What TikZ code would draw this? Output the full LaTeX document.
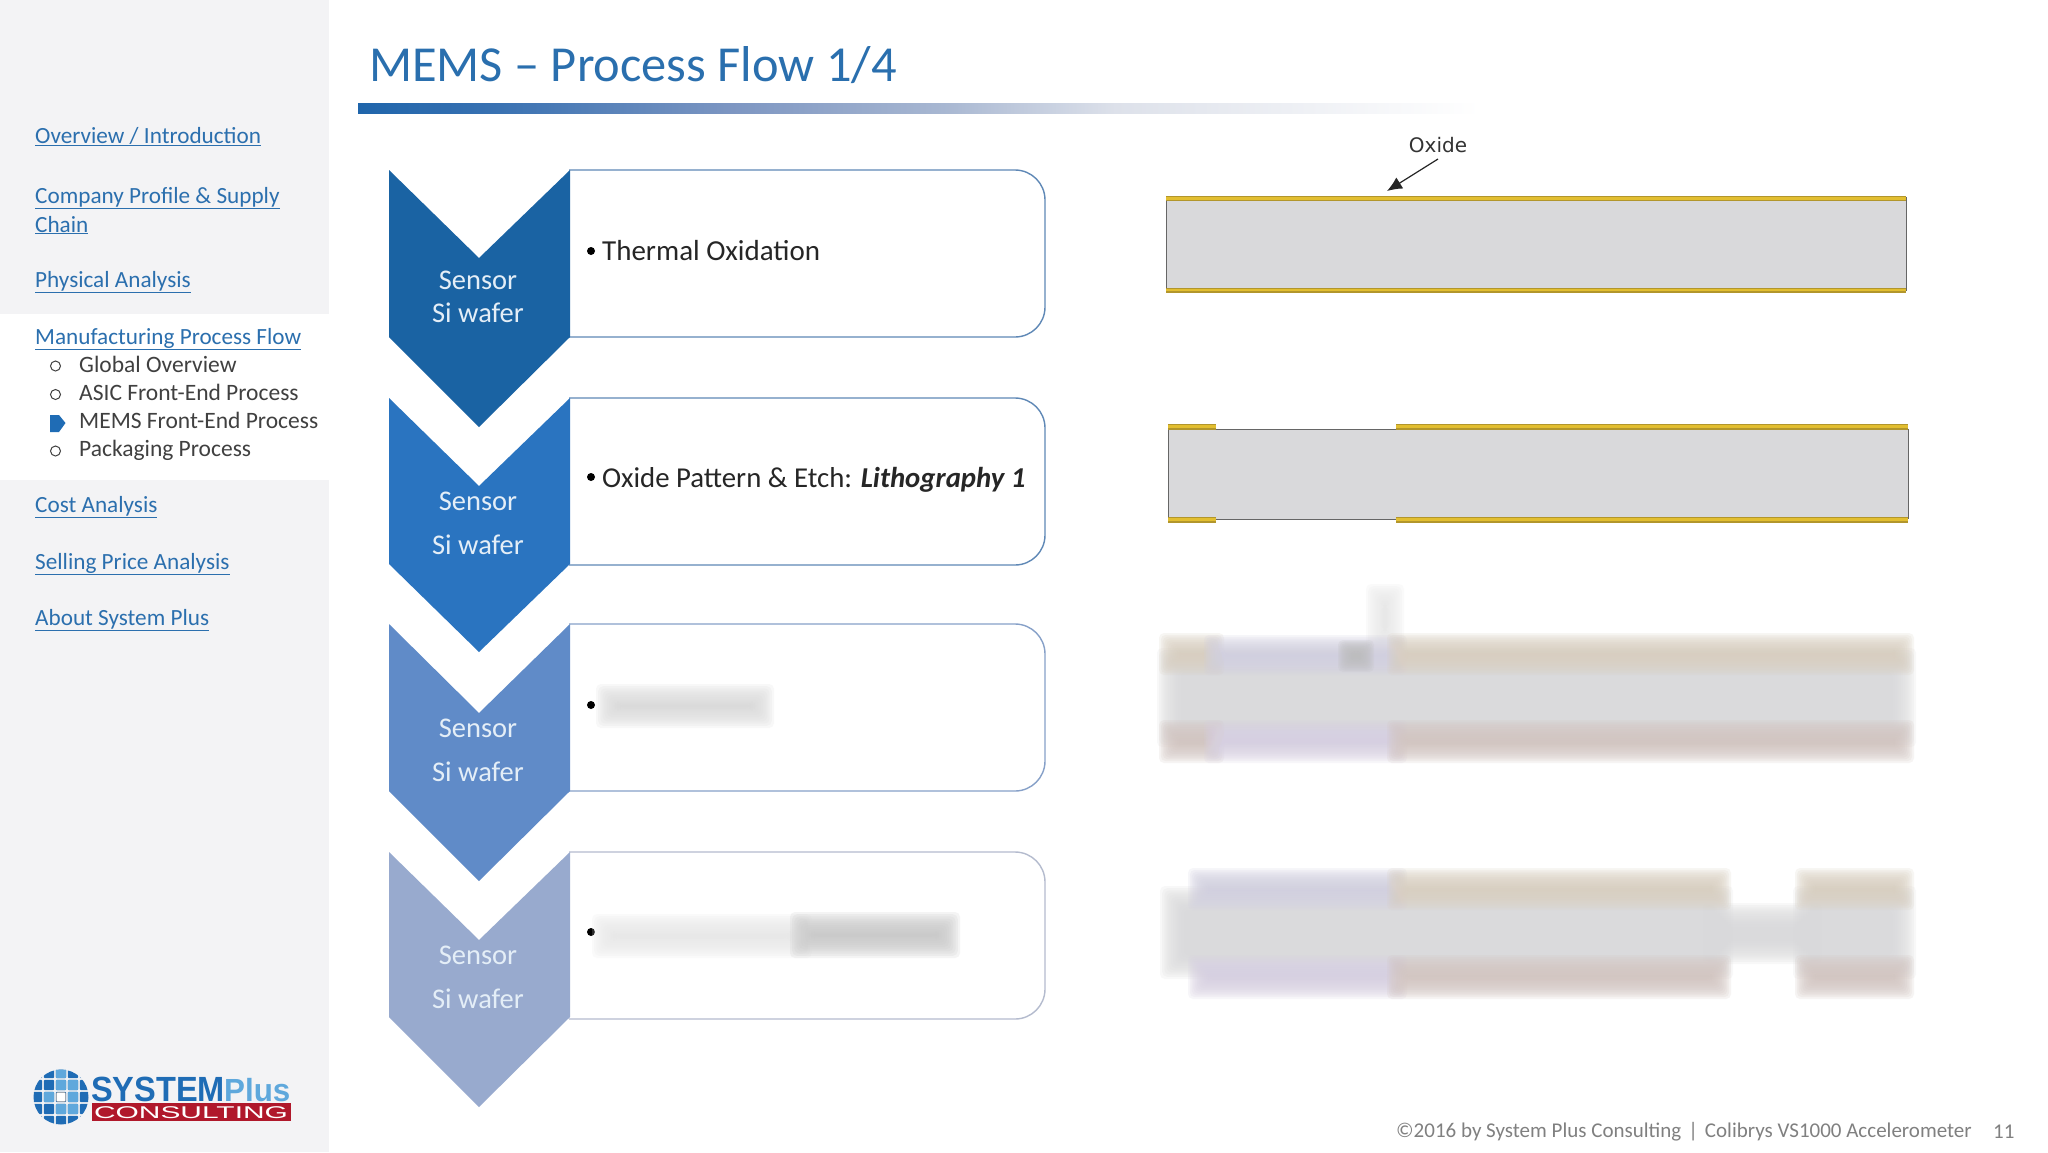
\documentclass[tikz,border=0pt]{standalone}
\usepackage{fontspec}
\setmainfont{Carlito}
\newfontfamily\dejafont{DejaVu Sans}
\newfontfamily\logofont{Liberation Sans}
\usetikzlibrary{arrows.meta}
\definecolor{sidebg}{HTML}{F3F3F5}
\definecolor{linkblue}{HTML}{2B6FAE}
\definecolor{subtext}{HTML}{404040}
\definecolor{titleblue}{HTML}{2A6FAE}
\definecolor{oxide}{HTML}{B2962C}
\definecolor{oxidemid}{HTML}{E2BE30}
\definecolor{body}{HTML}{D9D9DB}
\definecolor{tanA}{HTML}{D8CEBF}
\definecolor{tanB}{HTML}{D2C4C0}
\definecolor{lavA}{HTML}{D1CFDF}
\definecolor{lavB}{HTML}{D6CFE1}
\definecolor{logoblue}{HTML}{1F6CB5}
\definecolor{logolight}{HTML}{5FA8DC}
\definecolor{logored}{HTML}{B0182B}
\definecolor{wtext}{HTML}{E4EEF7}
\newcommand{\fs}[1]{\fontsize{#1}{#1}\selectfont}
\newcommand{\blurrect}[6]{%
  \foreach \k in {0,...,11}{%
    \pgfmathsetmacro{\dd}{#6*(1-\k/5.5)}%
    \fill[#5,opacity=0.18,rounded corners=5] (#1-\dd,#2-\dd) rectangle (#3+\dd,#4+\dd);
  }}
\newcommand{\oxstrip}[4]{\fill[oxide] (#1,#2) rectangle (#3,#4); \fill[oxidemid] (#1,#2+1.4) rectangle (#3,#4-1.4);}
\tikzset{
  x=1pt,y=-1pt,
  menu/.style={anchor=base west,text=linkblue,inner sep=0pt,font=\fs{23.2}},
  submenu/.style={anchor=base west,text=subtext,inner sep=0pt,font=\fs{23.5}},
  ring/.style={draw=subtext,line width=1pt,circle,inner sep=0pt,minimum size=10pt},
  wafertext/.style={anchor=base,text=wtext,inner sep=0pt,font=\fs{28.5}},
  boxtext/.style={anchor=base west,text=black!85,inner sep=0pt,font=\fs{29}},
  dotb/.style={fill=black,circle,inner sep=0pt,minimum size=8pt},
  boxline/.style={line width=1.4pt,fill=white},
  footer/.style={anchor=base west,text=black!50,inner sep=0pt,font=\fs{21}},
}
\begin{document}
\begin{tikzpicture}
\useasboundingbox (0,0) rectangle (2048,1152);
\fill[white] (0,0) rectangle (2048,1152);
% sidebar
\fill[sidebg] (0,0) rectangle (329,1152);
\fill[white] (0,314) rectangle (329,480);
% menu
\node[menu] (m1) at (35,143) {\underline{Overview / Introduction}};
\node[menu] (m2) at (35,203) {\underline{Company Profile \& Supply}};
\node[menu] (m2b) at (35,232) {\underline{Chain}};
\node[menu] (m3) at (35,287) {\underline{Physical Analysis}};
\node[menu] (m4) at (35,344) {\underline{Manufacturing Process Flow}};
\node[submenu] (s1) at (79,372) {Global Overview};
\node[submenu] (s2) at (79,400) {ASIC Front-End Process};
\node[submenu] (s3) at (79,428) {MEMS Front-End Process};
\node[submenu] (s4) at (79,456) {Packaging Process};
\node[ring] (r1) at (55.5,366) {};
\node[ring] (r2) at (55.5,394.5) {};
\node[ring] (r4) at (55.5,451) {};
\fill[logoblue] (50,415) -- (59,415) -- (65.5,423) -- (59,432) -- (50,432) -- cycle;
\node[menu] (m5) at (35,512) {\underline{Cost Analysis}};
\node[menu] (m6) at (35,569) {\underline{Selling Price Analysis}};
\node[menu] (m7) at (35,625) {\underline{About System Plus}};
% logo
\begin{scope}
\clip (61,1097) circle (27.5);
\foreach \i in {-3,...,3}{\foreach \j in {-3,...,3}{
  \fill[logoblue,rounded corners=1] (61+\i*12-5.2,1097+\j*12-5.2) rectangle +(10.4,10.4);}}
\foreach \i/\j in {0/-1,1/-1,-1/0,1/0,0/1,1/1,0/-2}{
  \fill[logolight,rounded corners=1] (61+\i*12-5.2,1097+\j*12-5.2) rectangle +(10.4,10.4);}
\fill[white,draw=black!40,rounded corners=1] (61-4.6,1097-4.6) rectangle +(9.2,9.2);
\end{scope}
\node[anchor=base west,inner sep=0pt,text=logoblue,font=\logofont\bfseries\fs{35},xscale=0.93] (logo1) at (91,1101) {SYSTEM};
\node[anchor=base west,inner sep=0pt,text=logolight,font=\logofont\bfseries\fs{32},xscale=0.98] (logo2) at (224,1101) {Plus};
\fill[logored] (91.5,1103) rectangle (291,1120.5);
\node[anchor=base,inner sep=0pt,text=white,font=\logofont\fs{17},xscale=1.76] (logo3) at (191,1118) {CONSULTING};
% title
\node[anchor=base west,inner sep=0pt,text=titleblue,font=\fs{50.4}] (title) at (369,81) {MEMS – Process Flow 1/4};
\definecolor{g0}{HTML}{1F65AB}\definecolor{g1}{HTML}{3A72B2}\definecolor{g2}{HTML}{7D96C2}
\definecolor{g3}{HTML}{A9B8D2}\definecolor{g4}{HTML}{DDE1EA}
\shade[left color=g0,right color=g1] (358,103) rectangle (500.5,113);
\shade[left color=g1,right color=g2] (500,103) rectangle (732.5,113);
\shade[left color=g2,right color=g3] (732,103) rectangle (947.5,113);
\shade[left color=g3,right color=g4] (947,103) rectangle (1115.5,113);
\shade[left color=g4,right color=white] (1115,103) rectangle (1480,113);
% step boxes
\foreach \yy/\bc/\n in {170/5F88B6/1,398/5F88B6/2,624/86A0C8/3,852/B4BBCE/4}{
  \definecolor{bc}{HTML}{\bc}
  \draw[boxline,draw=bc,rounded corners=30] (569,\yy) -- (1045,\yy) -- (1045,\yy+167) -- (569,\yy+167);
}
% chevrons
\fill[fill={rgb,255:red,26;green,99;blue,163}] (389,170) -- (479,258) -- (570,170) -- (570,337) -- (479,427) -- (389,337) -- cycle;
\fill[fill={rgb,255:red,42;green,116;blue,192}] (389,398) -- (479,486) -- (570,398) -- (570,564) -- (479,652) -- (389,564) -- cycle;
\fill[fill={rgb,255:red,96;green,139;blue,200}] (389,624) -- (479,713) -- (570,624) -- (570,791) -- (479,881) -- (389,791) -- cycle;
\fill[fill={rgb,255:red,152;green,170;blue,206}] (389,852) -- (479,940) -- (570,852) -- (570,1017) -- (479,1107) -- (389,1017) -- cycle;
\node[wafertext] (w1a) at (478,289) {Sensor};
\node[wafertext] (w1b) at (478,322) {Si wafer};
\node[wafertext] (w2a) at (478,510) {Sensor};
\node[wafertext] (w2b) at (478,554) {Si wafer};
\node[wafertext] (w3a) at (478,737) {Sensor};
\node[wafertext] (w3b) at (478,781) {Si wafer};
\node[wafertext] (w4a) at (478,964) {Sensor};
\node[wafertext] (w4b) at (478,1008) {Si wafer};
% box text
\node[dotb] (b1) at (591,251) {};
\node[boxtext] (t1) at (602,260) {Thermal Oxidation};
\node[dotb] (b2) at (591,477) {};
\node[boxtext,font=\fs{28.8}] (t2) at (602,487) {Oxide Pattern \& Etch: \textbf{\textit{Lithography 1}}};
\node[dotb] (b3) at (591,705) {};
\node[dotb] (b4) at (591,932) {};
\blurrect{608}{696}{762}{716}{black!15}{12}
\blurrect{604}{926}{800}{946}{black!9}{12}
\blurrect{802}{924}{948}{946}{black!22}{12}
% wafer 1
\fill[body] (1166,197) rectangle (1906,291);
\draw[black!60,line width=.8pt] (1166,197) -- (1166,291) (1906,197) -- (1906,291);
\oxstrip{1166}{196}{1906}{201}
\oxstrip{1166}{288}{1906}{292.5}
\node[anchor=base,inner sep=0pt,text=black!80,font=\dejafont\fs{20}] (ox) at (1438,152) {Oxide};
\coordinate (oxtip) at (1387,191);
\draw[-{Latex[length=15pt,width=13pt]},black!85,line width=1.2pt] (1438,159) -- (oxtip);
% wafer 2
\fill[body] (1168,429) rectangle (1908,519);
\draw[black!60,line width=.8pt] (1168,429) -- (1168,519) (1908,429) -- (1908,519) (1216,429) -- (1396,429) (1216,519) -- (1396,519);
\oxstrip{1168}{424}{1216}{429.5}
\oxstrip{1396}{424}{1908}{429.5}
\oxstrip{1168}{517}{1216}{522.5}
\oxstrip{1396}{517}{1908}{522.5}
% wafer 3 blurred
\blurrect{1378}{596}{1392}{640}{black!9}{12}
\blurrect{1169}{660}{1904}{735}{body}{12}
\blurrect{1169}{643}{1214}{665}{tanA}{10}
\blurrect{1214}{645}{1397}{665}{lavA}{10}
\blurrect{1397}{643}{1904}{665}{tanA}{10}
\blurrect{1346}{648}{1366}{664}{black!26}{8}
\blurrect{1169}{730}{1214}{753}{tanB}{10}
\blurrect{1214}{730}{1397}{753}{lavB}{10}
\blurrect{1397}{730}{1904}{753}{tanB}{10}
% wafer 4 blurred
\blurrect{1172}{898}{1721}{967}{body}{12}
\blurrect{1715}{915}{1810}{952}{body}{12}
\blurrect{1805}{898}{1904}{967}{body}{12}
\blurrect{1198}{878}{1397}{900}{lavA}{10}
\blurrect{1397}{878}{1721}{900}{tanA}{10}
\blurrect{1805}{878}{1904}{900}{tanA}{10}
\blurrect{1198}{965}{1397}{989}{lavB}{10}
\blurrect{1397}{965}{1721}{989}{tanB}{10}
\blurrect{1805}{965}{1904}{989}{tanB}{10}
% footer
\node[footer] (f1) at (1396,1137) {©2016 by System Plus Consulting\,\,|\,\,Colibrys VS1000 Accelerometer};
\node[footer] (f2) at (1993,1138) {11};
\end{tikzpicture}
\end{document}
